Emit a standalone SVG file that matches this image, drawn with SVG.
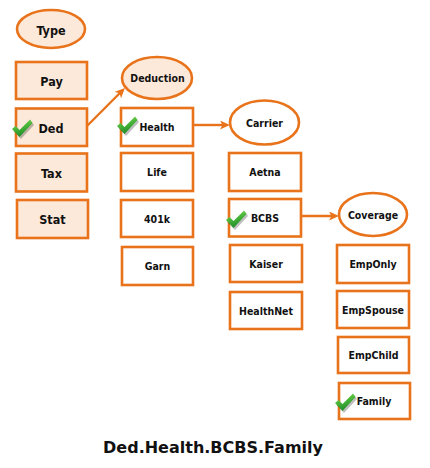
<svg xmlns="http://www.w3.org/2000/svg" width="430" height="468" viewBox="0 0 430 468">
<style>
.b{stroke:#E8731A;stroke-width:2.6;fill:#fff}
.p{fill:#FDE9DA}
.t{font-family:"DejaVu Sans Condensed","DejaVu Sans",sans-serif;font-stretch:condensed;font-weight:bold;font-size:10.5px;fill:#111;text-anchor:middle;dominant-baseline:central}
.l{font-size:12.5px}
.c{stroke:#E8731A;stroke-width:2.4;fill:none}
</style>
<defs>
<linearGradient id="g" x1="0" y1="0" x2="0.4" y2="1">
<stop offset="0" stop-color="#9BE36A"/>
<stop offset="0.5" stop-color="#4CB83A"/>
<stop offset="1" stop-color="#1E8A2A"/>
</linearGradient>
<g id="ck">
<path d="M1.5,12 L5,9 L9,13 L19.5,2.5 L22,6 L9,20 Z" fill="#000" opacity="0.25"/>
<path d="M0,10 L3.5,7 L7.5,11 L18,0.5 L20.5,4 L7.5,18 Z" fill="url(#g)"/>
</g>
<marker id="a" markerUnits="userSpaceOnUse" markerWidth="12" markerHeight="10" refX="5" refY="4.5" orient="auto">
<path d="M0,0 L10,4.5 L0,9 L2.5,4.5 Z" fill="#E8731A"/>
</marker>
</defs>
<g id="connectors">
<line class="c" x1="87" y1="126" x2="121.4" y2="91.5" marker-end="url(#a)"/>
<line class="c" x1="193" y1="125" x2="225" y2="125" marker-end="url(#a)"/>
<line class="c" x1="301" y1="216" x2="334" y2="216" marker-end="url(#a)"/>
</g>
<g id="type"><ellipse class="b p" cx="51" cy="29" rx="34" ry="19"/><text class="t l" x="51" y="30">Type</text></g>
<g id="pay"><rect class="b p" x="16" y="62" width="71" height="37"/><text class="t l" x="51.5" y="81">Pay</text></g>
<g id="ded"><rect class="b p" x="16" y="108.5" width="71" height="37.5"/><text class="t l" x="51" y="128">Ded</text><use href="#ck" x="12" y="119"/></g>
<g id="tax"><rect class="b p" x="16" y="153.5" width="71" height="38"/><text class="t l" x="51.5" y="173">Tax</text></g>
<g id="stat"><rect class="b p" x="17" y="200" width="71" height="38"/><text class="t l" x="52.5" y="219.5">Stat</text></g>

<g id="deduction"><ellipse class="b p" cx="157" cy="78" rx="35" ry="21"/><text class="t" x="157.5" y="78">Deduction</text></g>
<g id="health"><rect class="b" x="121" y="108" width="72" height="38"/><text class="t" x="157" y="127">Health</text><use href="#ck" x="117" y="116"/></g>
<g id="life"><rect class="b" x="121" y="153" width="72" height="38"/><text class="t" x="157" y="172">Life</text></g>
<g id="k401"><rect class="b" x="121" y="200" width="72" height="37"/><text class="t" x="157" y="218.5">401k</text></g>
<g id="garn"><rect class="b" x="122" y="247" width="71" height="38"/><text class="t" x="157.5" y="266">Garn</text></g>

<g id="carrier"><ellipse class="b" cx="264.5" cy="122.5" rx="34.5" ry="22"/><text class="t" x="264.5" y="123">Carrier</text></g>
<g id="aetna"><rect class="b" x="229" y="153" width="72" height="38"/><text class="t" x="265" y="172">Aetna</text></g>
<g id="bcbs"><rect class="b" x="229" y="199" width="72" height="37.5"/><text class="t" x="265" y="217.5">BCBS</text><use href="#ck" x="226" y="210"/></g>
<g id="kaiser"><rect class="b" x="230" y="245" width="72" height="37"/><text class="t" x="266" y="263.5">Kaiser</text></g>
<g id="healthnet"><rect class="b" x="230" y="292" width="72" height="37"/><text class="t" x="266" y="310.5">HealthNet</text></g>

<g id="coverage"><ellipse class="b" cx="373" cy="214.5" rx="34" ry="21.5"/><text class="t" x="373" y="215">Coverage</text></g>
<g id="emponly"><rect class="b" x="337" y="245" width="72" height="38"/><text class="t" x="373" y="264">EmpOnly</text></g>
<g id="empspouse"><rect class="b" x="337" y="291" width="72" height="37"/><text class="t" x="373" y="309.5">EmpSpouse</text></g>
<g id="empchild"><rect class="b" x="338" y="337" width="71" height="36"/><text class="t" x="373.5" y="355">EmpChild</text></g>
<g id="family"><rect class="b" x="339" y="383" width="71" height="36"/><text class="t" x="374" y="401">Family</text><use href="#ck" x="335" y="393"/></g>

<text x="213" y="453" font-family="DejaVu Sans, Verdana, sans-serif" font-weight="bold" font-size="16" fill="#111" text-anchor="middle">Ded.Health.BCBS.Family</text>
</svg>
